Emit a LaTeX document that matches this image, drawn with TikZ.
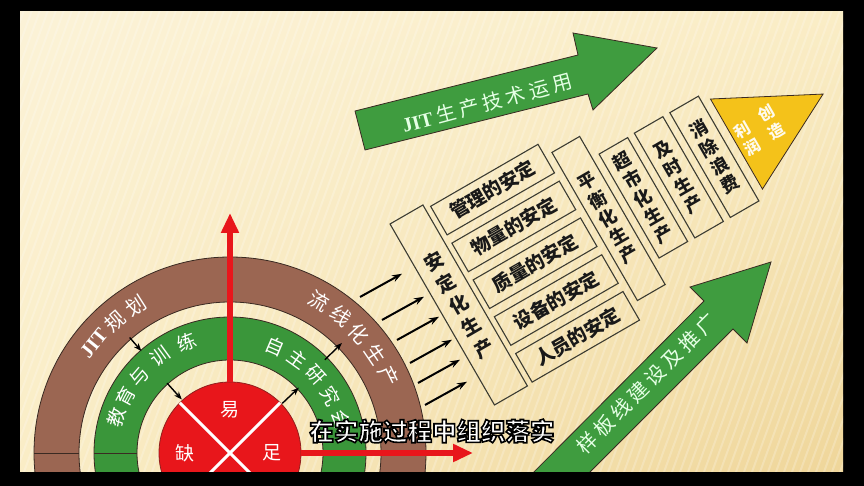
\documentclass[tikz,border=0pt]{standalone}
\usepackage{fontspec}
\setmainfont{Liberation Serif}
\newfontfamily\cjk{Noto Sans CJK SC}
\usetikzlibrary{arrows.meta,shadings}

\definecolor{bgcream}{HTML}{FAEDC6}
\definecolor{bgtan}{HTML}{EFD69A}
\definecolor{ringbrown}{HTML}{9B6652}
\definecolor{ringgreen}{HTML}{3A963A}
\definecolor{arrowgreen}{HTML}{3F9C3F}
\definecolor{coreRed}{HTML}{E8161B}
\definecolor{edgedark}{HTML}{3A2A22}
\definecolor{boxgray}{HTML}{3C3C32}
\definecolor{profitgold}{HTML}{F4C21A}

\newcommand{\gap}{\hspace{4pt}}
\newcommand{\outlinetext}[1]{\special{pdf:literal direct 0 G 1.6 w 2 Tr}#1\special{pdf:literal direct 0 Tr}}

\tikzset{
  ring/.style={even odd rule, draw=edgedark, line width=0.8pt},
  ringtxt/.style={text=white, inner sep=0pt, font=\cjk\fontsize{19}{19}\selectfont},
  inarrow/.style={-{Stealth[length=8pt,width=6pt]}, line width=1.4pt},
  feedarrow/.style={-{Stealth[length=10pt,width=7pt]}, line width=2pt},
  redarrow/.style={color=coreRed, line width=6pt, -{Triangle[length=20pt,width=17pt]}},
  colbox/.style={draw=boxgray, line width=1.1pt, inner sep=0pt, align=center, text=black!90,
    font=\cjk\bfseries\fontsize{18}{21}\selectfont},
  rowbox/.style={colbox, minimum width=124pt, minimum height=33pt,
    font=\cjk\bfseries\fontsize{19}{19}\selectfont},
  bigarrow/.style={fill=arrowgreen, draw=edgedark, line width=0.8pt},
  arrowtxt/.style={text=white!90!green, inner sep=0pt, font=\cjk\fontsize{20}{20}\selectfont},
  subtitle/.style={inner sep=0pt, text=white, font=\cjk\bfseries\fontsize{24.5}{24.5}\selectfont},
}

\begin{document}
\begin{tikzpicture}[x=1pt,y=1pt]
\useasboundingbox (0,0) rectangle (864,486);
\fill[black] (0,0) rectangle (864,486);

\begin{scope}
\clip (20,14) rectangle (843,474);
\shade[upper left=bgcream!70!white, upper right=bgcream, lower left=bgcream, lower right=bgtan]
  (20,14) rectangle (843,474);
\foreach \s in {-400,-392,...,860}
  \draw[white, opacity=0.22, line width=2pt] (\s,14) -- ++(70:520);

% rings round the core
\begin{scope}[shift={(230,33)}]
  \coordinate (C) at (0,0);
  \fill[ringbrown, ring] (C) circle (196) (C) circle (151);
  \fill[ringgreen, ring] (C) circle (136) (C) circle (93);
  \draw[edgedark, line width=0.8pt] (-196,0) -- (-151,0) (-136,0) -- (-93,0);
  \fill[coreRed, draw=edgedark!50!coreRed, line width=0.8pt] (C) circle (71);
  \draw[white, line width=3pt] (45:71) -- (225:71) (135:71) -- (315:71);

  \coordinate (coretop) at (90:71);
  \coordinate (uptip) at (90:240);
  \coordinate (coreright) at (0:71);
  \coordinate (righttip) at (0:243);
  \draw[redarrow] (coretop) -- (uptip);
  \draw[redarrow] (coreright) -- (righttip);

  \node[ringtxt] (yi) at (90:43) {易};
  \node[ringtxt] (que) at (180:45) {缺};
  \node[ringtxt] (zu) at (0:42) {足};

  \node[ringtxt, rotate=51, font=\rmfamily\bfseries\fontsize{20}{20}\selectfont] (jitplan) at (141:175) {JIT};
  \node[ringtxt, rotate=41, font=\cjk\fontsize{20}{20}\selectfont] (gui) at (131:175) {规};
  \node[ringtxt, rotate=32.5, font=\cjk\fontsize{20}{20}\selectfont] (hua) at (122.5:175) {划};

  \foreach \a/\t [count=\i] in {59.5/流,51/线,42.7/化,34.2/生,25.9/产}
    \node[ringtxt, rotate=\a-90, font=\cjk\fontsize{20}{20}\selectfont] (flow\i) at (\a:176) {\t};
  \foreach \a/\t [count=\i] in {162.4/教,151.5/育,139.8/与,125.8/训,111.2/练}
    \node[ringtxt, rotate=\a-90] (train\i) at (\a:119) {\t};
  \foreach \a/\t [count=\i] in {67/自,54.5/主,42/研,29.5/究,17/会}
    \node[ringtxt, rotate=\a-90] (study\i) at (\a:116) {\t};

  \coordinate (a1s) at (131:153);
  \coordinate (a1e) at (131:135);
  \coordinate (a2s) at (132:94);
  \coordinate (a2e) at (132:72);
  \coordinate (a3s) at (43.5:72);
  \coordinate (a3e) at (43.5:95);
  \coordinate (a4s) at (44.5:133);
  \coordinate (a4e) at (44.5:157);
  \draw[inarrow] (a1s) -- (a1e);
  \draw[inarrow] (a2s) -- (a2e);
  \draw[inarrow] (a3s) -- (a3e);
  \draw[inarrow] (a4s) -- (a4e);
\end{scope}

% arrows into the stable production column
\foreach \x/\y [count=\i] in {360/189,382/166,397/146,410/123,418/103,425/81}{
  \coordinate (f\i s) at (\x,\y);
  \path (f\i s) ++(29:48) coordinate (f\i e);
  \draw[feedarrow] (f\i s) -- (f\i e);
}

% the tilted house of boxes
\begin{scope}[shift={(390,262)}, rotate=30, transform shape]
  \node[colbox, minimum width=38pt, minimum height=209pt,
    font=\cjk\bfseries\fontsize{19}{25}\selectfont] (stable) at (19,-104.5) {安\\定\\化\\生\\产};
  \foreach \t [count=\i] in {管理的安定,物量的安定,质量的安定,设备的安定,人员的安定}
    \node[rowbox] (row\i) at (106,{-21.5-42.5*(\i-1)}) {\t};
  \node[colbox, minimum width=32pt, minimum height=171pt] (balance) at (192,-104.5) {平\\衡\\化\\生\\产};
  \node[colbox, minimum width=33pt, minimum height=120pt] (market) at (232.5,-104) {超\\市\\化\\生\\产};
  \node[colbox, minimum width=33pt, minimum height=121pt] (justintime) at (273.5,-104) {及\\时\\生\\产};
  \node[colbox, minimum width=33pt, minimum height=121pt] (waste) at (314.5,-104) {消\\除\\浪\\费};
  \draw[fill=profitgold, draw=edgedark, line width=0.8pt] (340,-52) -- (440,-104) -- (340,-156) -- cycle;
  \node[align=center, inner sep=0pt, text=white!92!profitgold,
    font=\cjk\bfseries\fontsize{16}{20}\selectfont] (profitA) at (381,-102.5) {创\\造};
  \node[align=center, inner sep=0pt, text=white!92!profitgold,
    font=\cjk\bfseries\fontsize{16}{20}\selectfont] (profitB) at (352,-105) {利\\润};
\end{scope}

% big green arrows
\draw[bigarrow] (355,375) -- (578,431) -- (573,453) -- (657,438) -- (593,376) -- (588,392) -- (365,336) -- cycle;
\node[arrowtxt, rotate=15] (jituse) at (487,383)
  {{\rmfamily\bfseries JIT}\gap 生\gap 产\gap 技\gap 术\gap 运\gap 用};
\draw[bigarrow] (521,1) -- (704,185) -- (690,199) -- (771,224) -- (747,143) -- (733,157) -- (549,-27) -- cycle;
\node[arrowtxt, rotate=45] (modelline) at (647,102)
  {样\gap 板\gap 线\gap 建\gap 设\gap 及\gap 推\gap 广};

% caption
\node[subtitle] (caption) at (432,55) {\outlinetext{在实施过程中组织落实}};
\end{scope}

\end{tikzpicture}
\end{document}
